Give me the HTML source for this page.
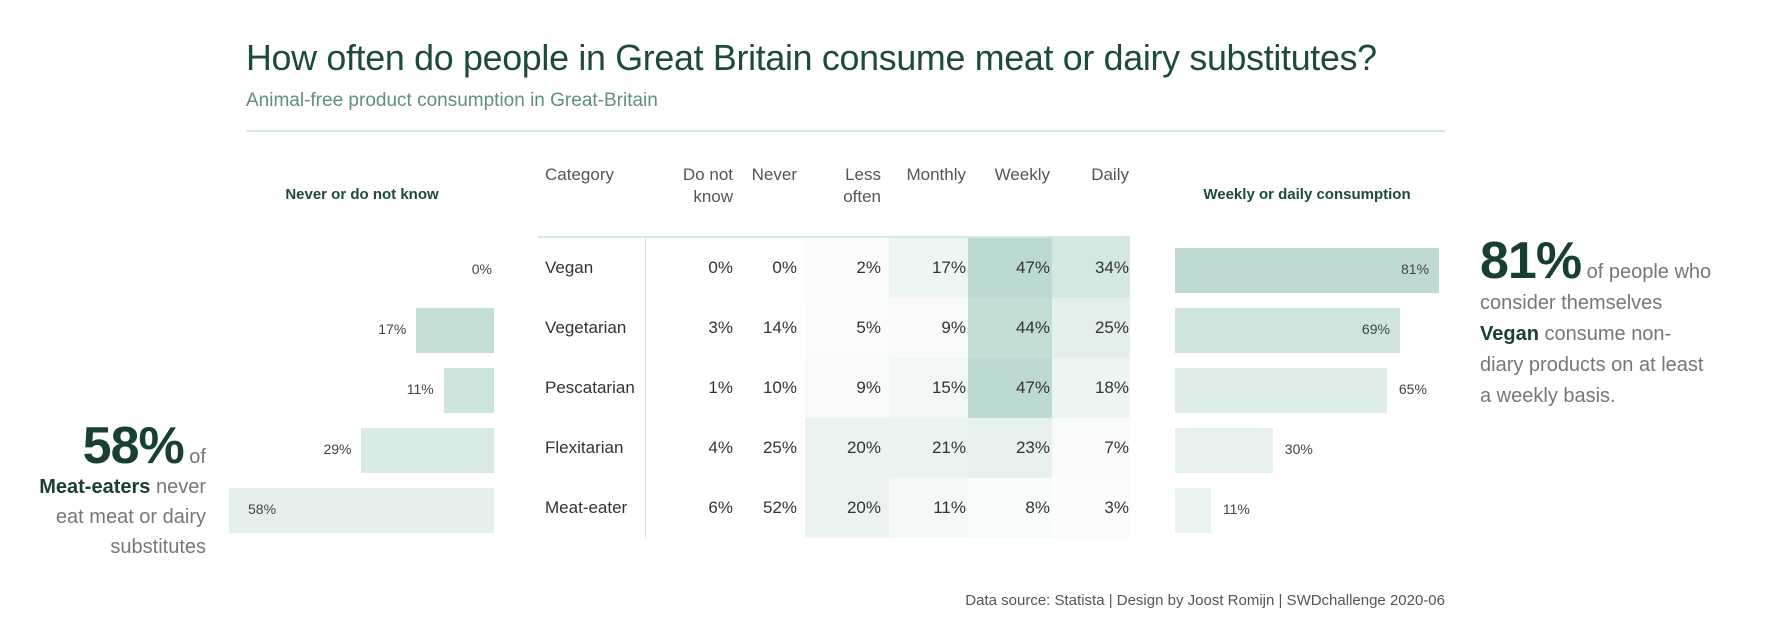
<!DOCTYPE html>
<html><head><meta charset="utf-8"><style>
body{margin:0;width:1779px;height:626px;background:#fff;font-family:"Liberation Sans",sans-serif;position:relative;overflow:hidden;color:#444}
.a{position:absolute;white-space:nowrap}
.t{font-size:17px;color:#333}
.r{text-align:right}
.h{font-size:17px;color:#555;line-height:22px}
.bar{position:absolute;height:45px}
.c{position:absolute;height:60px}
</style></head><body>
<div class="a" style="left:246px;top:38px;font-size:35.8px;color:#1c4a3c;letter-spacing:-0.3px">How often do people in Great Britain consume meat or dairy substitutes?</div>
<div class="a" style="left:246px;top:90px;font-size:19px;color:#5f8f80">Animal-free product consumption in Great-Britain</div>
<div class="a" style="left:246px;top:130px;width:1199px;height:2px;background:#d6e8e3"></div>

<div class="a" style="left:262px;top:186px;width:200px;text-align:center;font-size:15px;font-weight:bold;color:#1c4a3c">Never or do not know</div>
<div class="a" style="left:1172px;top:186px;width:270px;text-align:center;font-size:15px;font-weight:bold;color:#1c4a3c">Weekly or daily consumption</div>

<div class="a h" style="left:545px;top:164px">Category</div>
<div class="a h r" style="left:633px;top:164px;width:100px">Do not<br>know</div>
<div class="a h r" style="left:697px;top:164px;width:100px">Never</div>
<div class="a h r" style="left:781px;top:164px;width:100px">Less<br>often</div>
<div class="a h r" style="left:866px;top:164px;width:100px">Monthly</div>
<div class="a h r" style="left:950px;top:164px;width:100px">Weekly</div>
<div class="a h r" style="left:1029px;top:164px;width:100px">Daily</div>

<div class="a" style="left:538px;top:236px;width:592px;height:2px;background:#d6e8e3"></div>
<div class="a" style="left:645px;top:238px;width:1px;height:300px;background:#d6e8e3"></div>

<div id="cells"></div>
<script>
var rows=[["Vegan",0,0,2,17,47,34],["Vegetarian",3,14,5,9,44,25],["Pescatarian",1,10,9,15,47,18],["Flexitarian",4,25,20,21,23,7],["Meat-eater",6,52,20,11,8,3]];
var colR=[733,797,881,966,1050,1129],colL=[0,0,805,889,968,1052],colW=[0,0,84,79,84,78];
var h="";
rows.forEach(function(r,i){var top=238+i*60;
h+='<div class="a t" style="left:545px;top:'+(top+20)+'px">'+r[0]+'</div>';
for(var j=0;j<6;j++){var v=r[j+1];
if(j>=2){h+='<div class="c" style="left:'+colL[j]+'px;top:'+top+'px;width:'+colW[j]+'px;background:rgba(120,180,165,'+(0.025+Math.pow(v/47,1.5)*0.47)+')"></div>';}
h+='<div class="a t r" style="left:'+(colR[j]-80)+'px;width:80px;top:'+(top+20)+'px">'+v+'%</div>';}
});
var L=[0,17,11,29,58],LC=["#fff","#c5dfd8","#cde3dd","#d9e9e5","#e5f0ed"];
L.forEach(function(v,i){var top=248+i*60,w=v*4.57;
if(v>0)h+='<div class="bar" style="left:'+(494-w)+'px;width:'+w+'px;top:'+top+'px;background:'+LC[i]+'"></div>';
if(i==0)h+='<div class="a r" style="left:392px;width:100px;top:'+(top+13)+'px;font-size:14px;color:#444">0%</div>';
else if(i==4)h+='<div class="a" style="left:248px;top:'+(top+13)+'px;font-size:14px;color:#444">58%</div>';
else h+='<div class="a r" style="left:'+(494-w-110)+'px;width:100px;top:'+(top+13)+'px;font-size:14px;color:#444">'+v+'%</div>';});
var R=[81,69,65,30,11],RC=["#bfdad4","#cfe4de","#deede9","#e6f1ee","#e8f2ef"];
R.forEach(function(v,i){var top=248+i*60,w=v*3.26;
h+='<div class="bar" style="left:1175px;width:'+w+'px;top:'+top+'px;background:'+RC[i]+'"></div>';
if(i<2)h+='<div class="a r" style="left:'+(1175+w-110)+'px;width:100px;top:'+(top+13)+'px;font-size:14px;color:#444">'+v+'%</div>';
else h+='<div class="a" style="left:'+(1175+w+12)+'px;top:'+(top+13)+'px;font-size:14px;color:#444">'+v+'%</div>';});
document.getElementById("cells").innerHTML=h;
</script>

<div class="a" style="left:1480px;top:246px;font-size:20px;color:#777;line-height:31px;white-space:normal;width:260px"><span style="font-size:52px;font-weight:bold;color:#173f33;letter-spacing:-1px">81%</span> of people who<br>consider themselves<br><b style="color:#173f33">Vegan</b> consume non-<br>diary products on at least<br>a weekly basis.</div>

<div class="a r" style="left:0;width:206px;top:420px;font-size:20px;color:#777;line-height:30px"><span style="font-size:52px;font-weight:bold;color:#173f33;letter-spacing:-1px;line-height:52px">58%</span> of<br><b style="color:#173f33">Meat-eaters</b> never<br>eat meat or dairy<br>substitutes</div>

<div class="a r" style="left:845px;width:600px;top:592px;font-size:15px;color:#555">Data source: Statista | Design by Joost Romijn | SWDchallenge 2020-06</div>
</body></html>
